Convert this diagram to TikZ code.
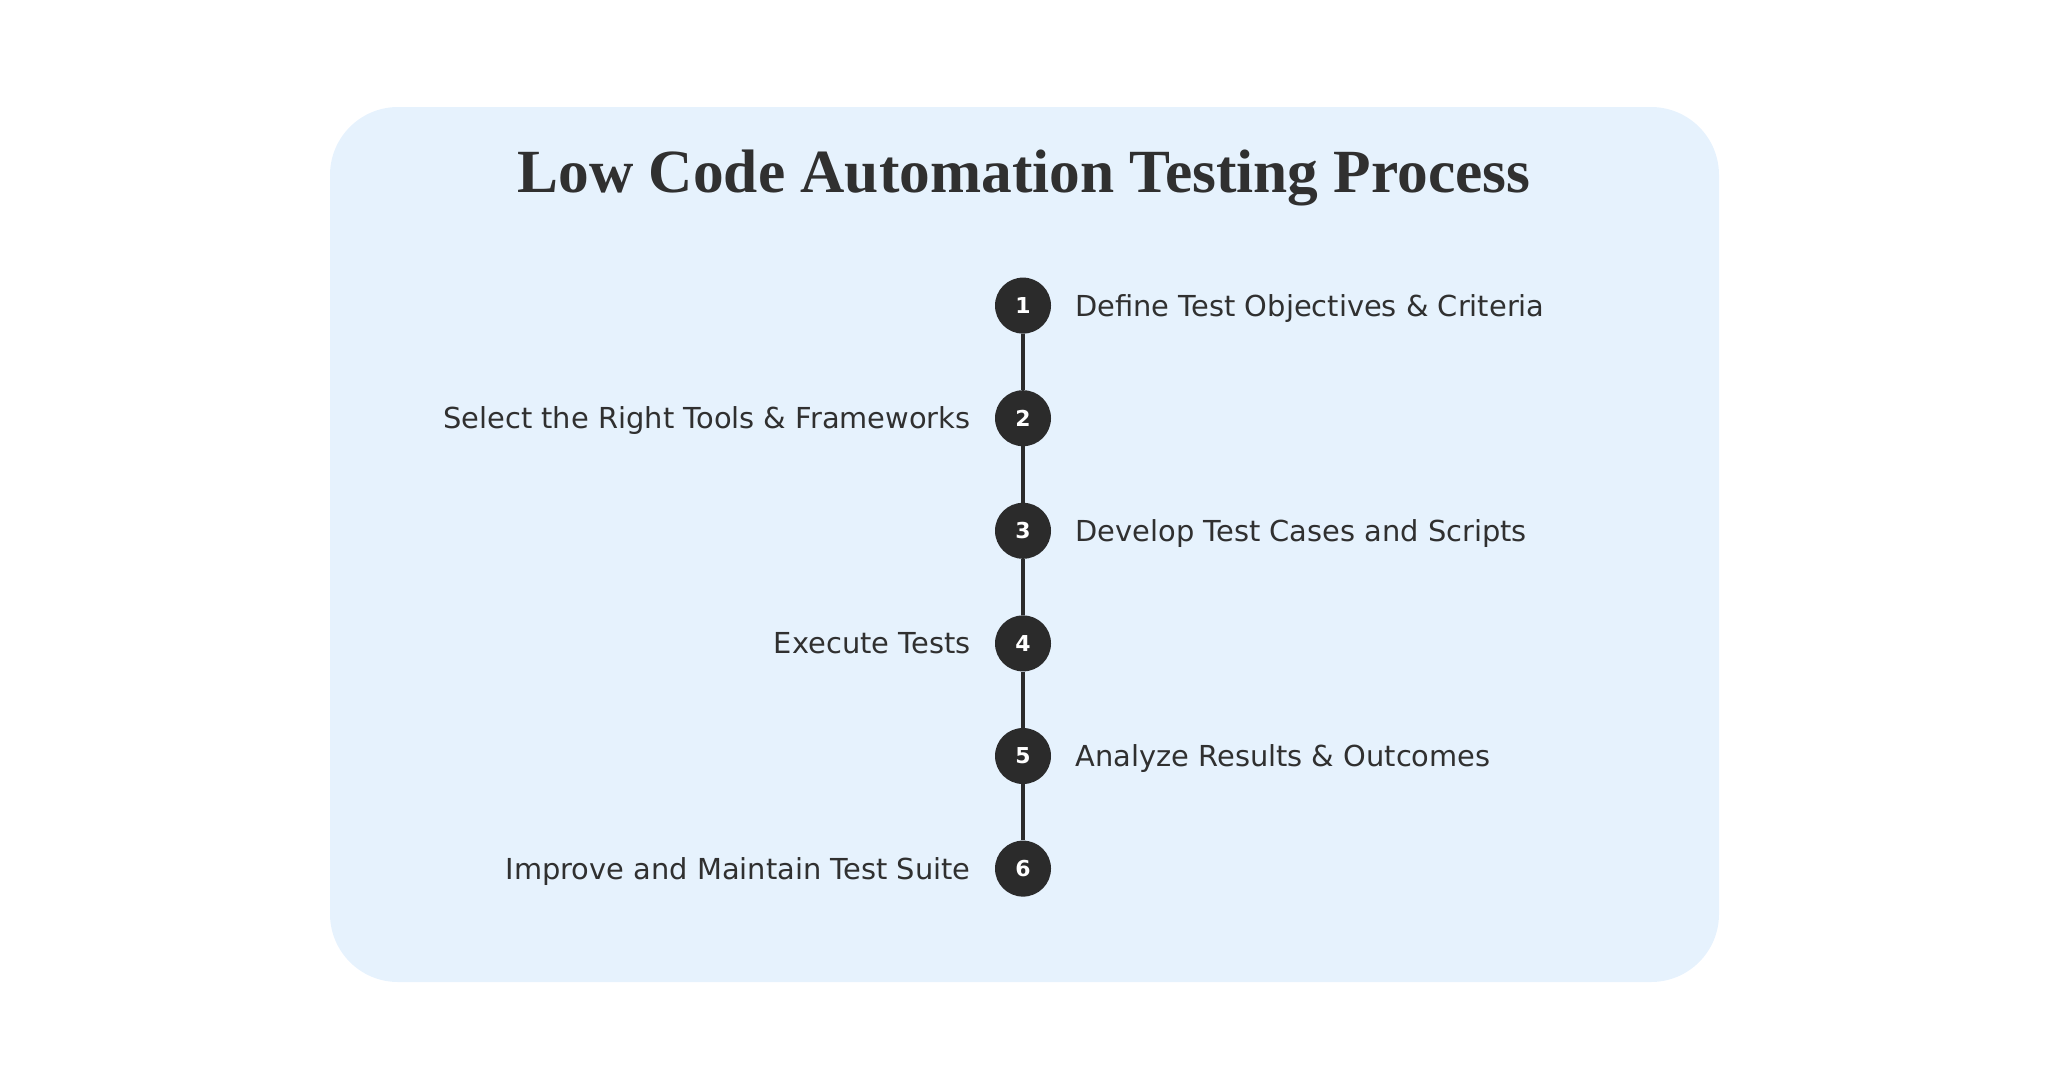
\documentclass[tikz,border=0pt]{standalone}
\usepackage{fontspec}
\setmainfont{DejaVu Sans}
\newfontfamily\titlefont{Liberation Serif}
\usetikzlibrary{positioning}
\definecolor{panelblue}{HTML}{E6F2FD}
\definecolor{inkdark}{HTML}{2B2B2B}
\definecolor{textdark}{HTML}{303030}

\begin{document}
\begin{tikzpicture}[x=1bp, y=-1bp,
      stepdot/.style={circle,fill=inkdark,minimum size=56bp,inner sep=0pt,
        text=white,font=\fontsize{22}{22}\selectfont\bfseries},
      steptext/.style={text=textdark,inner sep=0pt,text height=21bp,text depth=0pt,
        font=\fontsize{29}{29}\selectfont}]
    \tikzstyle{spine} = [draw=inkdark,line width=4bp]
    \useasboundingbox (0,0) rectangle (2048,1091);
    \fill[panelblue,rounded corners=68bp] (330,107) rectangle (1719,982);
    \node (title) [text=textdark,inner sep=0pt,anchor=base] at (1024,192)
      {\titlefont\bfseries\fontsize{61.6}{61.6}\selectfont Low Code Automation Testing Process};
    % steps down the spine
    \node (s1) [stepdot] at (1023,305.6) {1};
    \node (s2) [stepdot] at (1023,418.2) {2};
    \node (s3) [stepdot] at (1023,530.8) {3};
    \node (s4) [stepdot] at (1023,643.4) {4};
    \node (s5) [stepdot] at (1023,756) {5};
    \node (s6) [stepdot] at (1023,868.6) {6};
    \draw[spine] (s1) -- (s2);
    \draw[spine] (s2) -- (s3);
    \draw[spine] (s3) -- (s4);
    \draw[spine] (s4) -- (s5);
    \draw[spine] (s5) -- (s6);
    % labels, alternating sides
    \node (define) [steptext,right=24bp of s1] {Define Test Objectives \& Criteria};
    \node (select) [steptext,left=24bp of s2] {Select the Right Tools \& Frameworks};
    \node (develop) [steptext,right=24bp of s3] {Develop Test Cases and Scripts};
    \node (execute) [steptext,left=24bp of s4] {Execute Tests};
    \node (analyze) [steptext,right=24bp of s5] {Analyze Results \& Outcomes};
    \node (improve) [steptext,left=24bp of s6] {Improve and Maintain Test Suite};
\end{tikzpicture}
\end{document}
